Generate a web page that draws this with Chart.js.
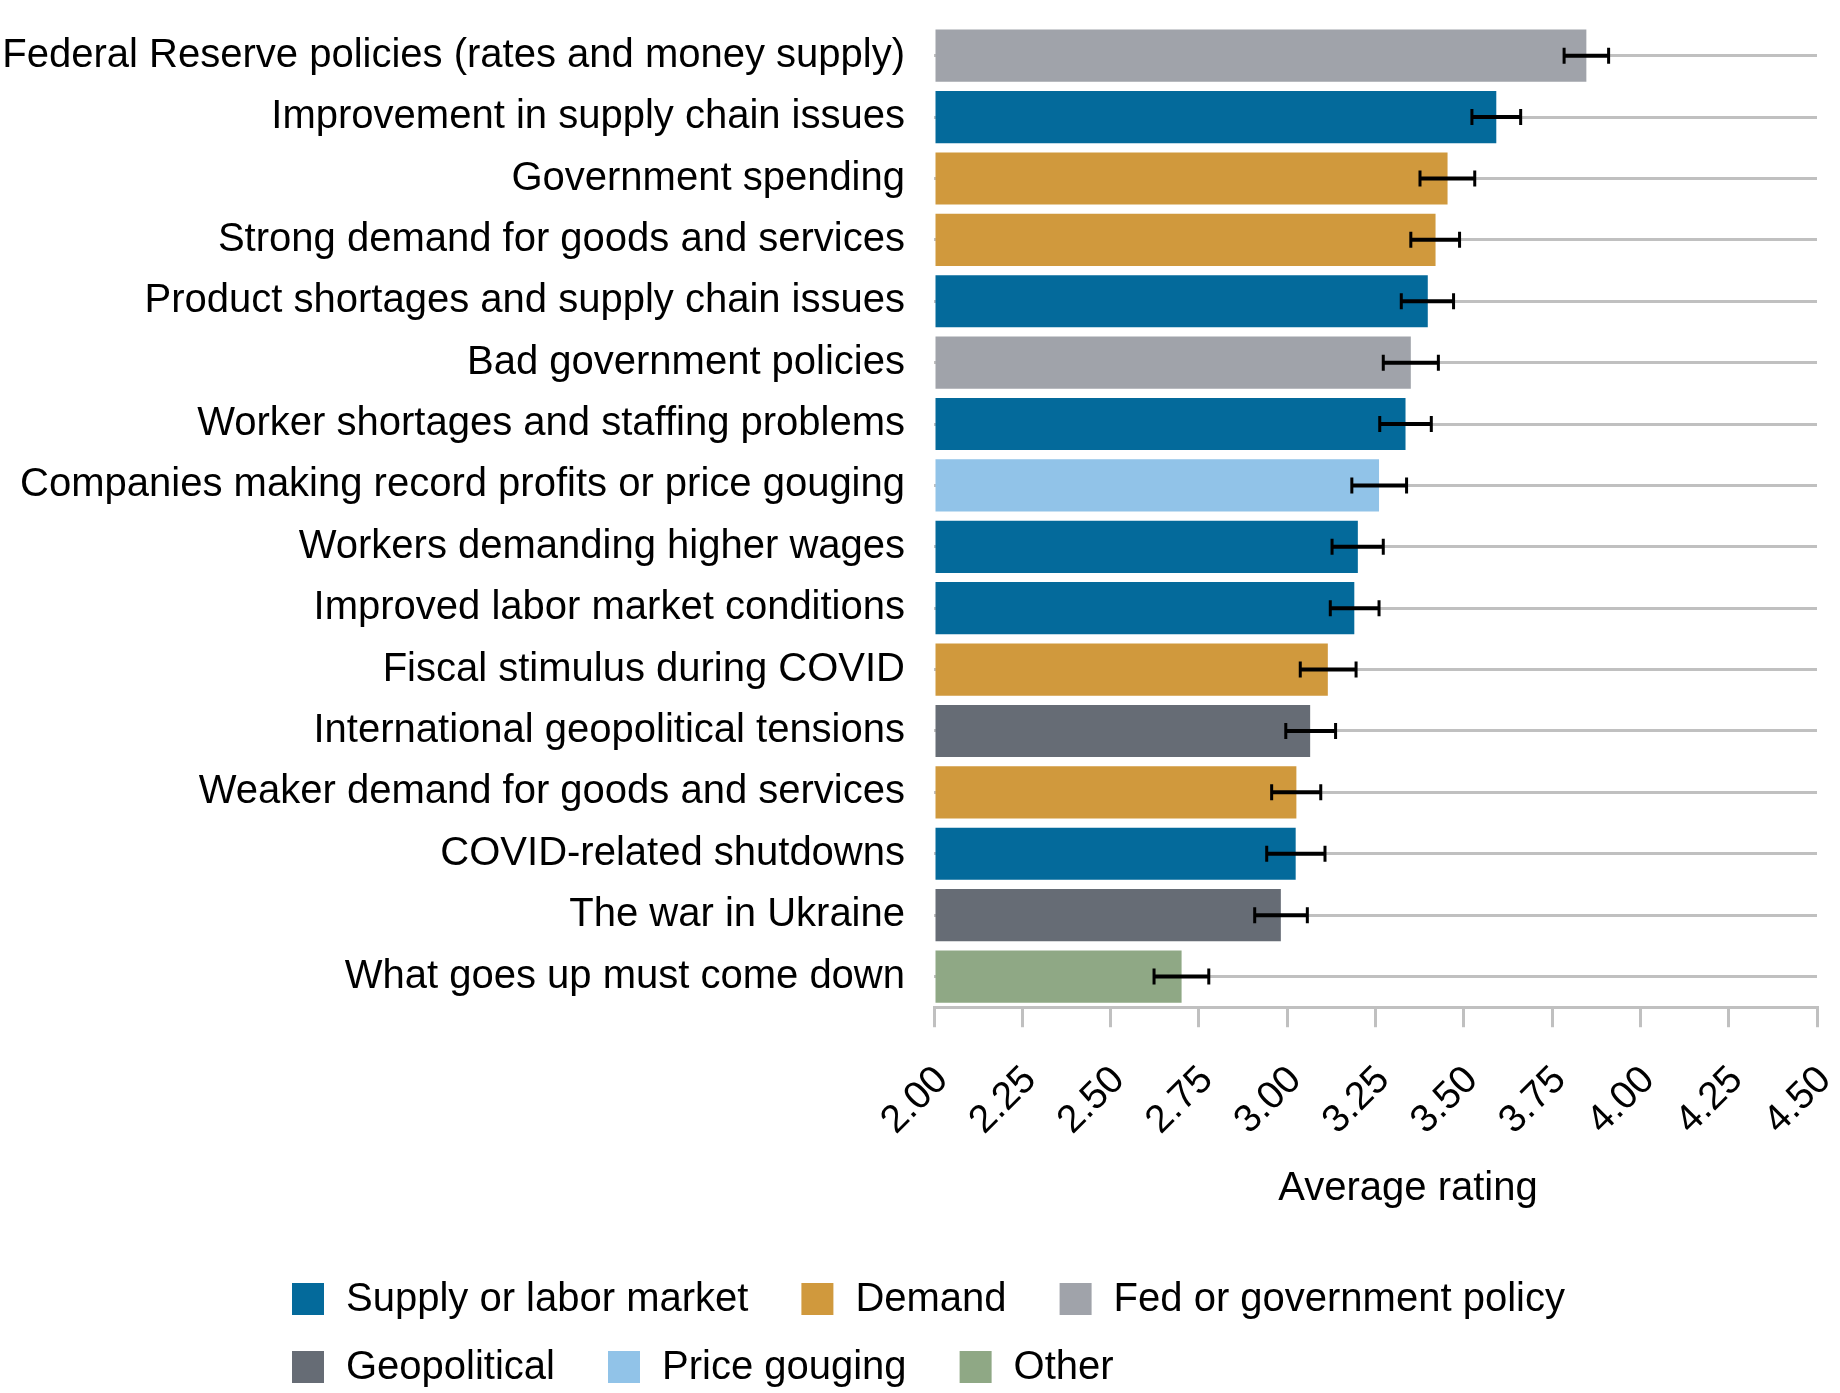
<!DOCTYPE html>
<html>
<head>
<meta charset="utf-8">
<script src="https://cdn.jsdelivr.net/npm/chart.js@4/dist/chart.umd.min.js"></script>
<style>
  html, body { margin: 0; padding: 0; background: #fff; }
  #wrap { width: 1840px; height: 1393px; }
</style>
</head>
<body>
<div id="wrap"><canvas id="myChart"></canvas></div>
<script>
// Data

const categories = [
  'Federal Reserve policies (rates and money supply)',
  'Improvement in supply chain issues',
  'Government spending',
  'Strong demand for goods and services',
  'Product shortages and supply chain issues',
  'Bad government policies',
  'Worker shortages and staffing problems',
  'Companies making record profits or price gouging',
  'Workers demanding higher wages',
  'Improved labor market conditions',
  'Fiscal stimulus during COVID',
  'International geopolitical tensions',
  'Weaker demand for goods and services',
  'COVID-related shutdowns',
  'The war in Ukraine',
  'What goes up must come down',
];

const ratings = [3.847, 3.592, 3.454, 3.420, 3.398, 3.350, 3.335, 3.260,
  3.200, 3.190, 3.115, 3.065, 3.026, 3.024, 2.982, 2.701];
const errLow = [3.784, 3.523, 3.376, 3.350, 3.323, 3.272, 3.262, 3.183,
  3.127, 3.122, 3.037, 2.996, 2.956, 2.942, 2.908, 2.623];
const errHigh = [3.910, 3.661, 3.531, 3.488, 3.471, 3.428, 3.408, 3.338,
  3.272, 3.260, 3.195, 3.137, 3.095, 3.107, 3.057, 2.778];

const groupOf = ['policy', 'supply', 'demand', 'demand', 'supply', 'policy', 'supply', 'gouging',
  'supply', 'supply', 'demand', 'geo', 'demand', 'supply', 'geo', 'other'];

const groupKeys = ['supply', 'demand', 'policy', 'geo', 'gouging', 'other'];
const groupNames = ['Supply or labor market', 'Demand', 'Fed or government policy',
  'Geopolitical', 'Price gouging', 'Other'];

const xTickValues = [2.00, 2.25, 2.50, 2.75, 3.00, 3.25, 3.50, 3.75, 4.00, 4.25, 4.50];
const xTickLabels = ['2.00', '2.25', '2.50', '2.75', '3.00', '3.25', '3.50', '3.75', '4.00', '4.25', '4.50'];

// Settings

const colors = {
  supply: '#046a9b',
  demand: '#d0993d',
  policy: '#a0a3aa',
  geo: '#666c75',
  gouging: '#91c3e8',
  other: '#8fa885',
  rule: '#c0c0c0',
  text: '#000',
};

const fontFamily = '"Liberation Sans", Arial, sans-serif';

const legendLayout = { left: 292, rows: [1299, 1367], box: 32, textGap: 22, itemGap: 53, perRow: 3 };
const axisTitle = { text: 'Average rating', x: 1408, y: 1189 };
const yAxisWidth = 929;

Chart.defaults.font.family = fontFamily;
Chart.defaults.color = colors.text;

// Plugins

const errorBars = {
  id: 'errorBars',
  afterDatasetsDraw(chart) {
    const {ctx} = chart;
    const xScale = chart.scales.x;
    const bars = chart.getDatasetMeta(0).data;
    ctx.save();
    ctx.strokeStyle = '#000';
    bars.forEach(function(bar, i) {
      const x0 = xScale.getPixelForValue(errLow[i]);
      const x1 = xScale.getPixelForValue(errHigh[i]);
      ctx.lineWidth = 4;
      ctx.beginPath();
      ctx.moveTo(x0, bar.y);
      ctx.lineTo(x1, bar.y);
      ctx.stroke();
      ctx.lineWidth = 3;
      ctx.beginPath();
      ctx.moveTo(x0, bar.y - 8);
      ctx.lineTo(x0, bar.y + 8);
      ctx.moveTo(x1, bar.y - 8);
      ctx.lineTo(x1, bar.y + 8);
      ctx.stroke();
    });
    ctx.restore();
  }
};

const extras = {
  id: 'extras',
  afterDraw(chart) {
    const {ctx} = chart;
    ctx.save();
    ctx.font = '40px ' + fontFamily;
    ctx.fillStyle = colors.text;
    ctx.textBaseline = 'middle';

    // axis title
    ctx.textAlign = 'center';
    ctx.fillText(axisTitle.text, axisTitle.x, axisTitle.y);

    // legend
    ctx.textAlign = 'left';
    const L = legendLayout;
    let x = L.left;
    groupKeys.forEach(function(key, i) {
      const row = Math.floor(i / L.perRow);
      if (i % L.perRow === 0) {
        x = L.left;
      }
      const y = L.rows[row];
      ctx.fillStyle = colors[key];
      ctx.fillRect(x, y - L.box / 2, L.box, L.box);
      ctx.fillStyle = colors.text;
      ctx.fillText(groupNames[i], x + L.box + L.textGap, y + 1);
      x += L.box + L.textGap + ctx.measureText(groupNames[i]).width + L.itemGap;
    });
    ctx.restore();
  }
};

// Chart

const ctx = document.getElementById('myChart').getContext('2d');

const chart = new Chart(ctx, {
  type: 'bar',
  data: {
    labels: categories,
    datasets: [{
      data: ratings,
      base: 2,
      backgroundColor: groupOf.map(g => colors[g]),
      barPercentage: 0.85,
      categoryPercentage: 1,
    }]
  },
  options: {
    indexAxis: 'y',
    responsive: true,
    maintainAspectRatio: false,
    animation: false,
    devicePixelRatio: 1,
    layout: {
      padding: { left: 5, right: 23, top: 25, bottom: 219 }
    },
    plugins: {
      legend: { display: false },
      tooltip: { enabled: false },
    },
    scales: {
      x: {
        min: 2,
        max: 4.5,
        afterBuildTicks(axis) {
          axis.ticks = xTickValues.map(v => ({ value: v }));
        },
        afterFit(axis) {
          axis.paddingRight = 0;
        },
        border: { color: colors.rule, width: 3 },
        grid: {
          drawOnChartArea: false,
          drawTicks: true,
          tickLength: 20,
          color: colors.rule,
          lineWidth: 3,
        },
        ticks: {
          autoSkip: false,
          minRotation: 45,
          maxRotation: 45,
          padding: 30,
          labelOffset: 8,
          color: colors.text,
          font: { size: 39 },
          callback: (value, index) => xTickLabels[index],
        },
      },
      y: {
        afterFit(axis) {
          axis.width = yAxisWidth;
          axis.paddingTop = 0;
          axis.paddingBottom = 0;
        },
        border: { display: false },
        grid: {
          offset: false,
          drawTicks: false,
          color: colors.rule,
          lineWidth: 3,
        },
        ticks: {
          padding: 29,
          color: colors.text,
          font: { size: 40 },
        },
      },
    },
  },
  plugins: [errorBars, extras],
});
</script>
</body>
</html>
